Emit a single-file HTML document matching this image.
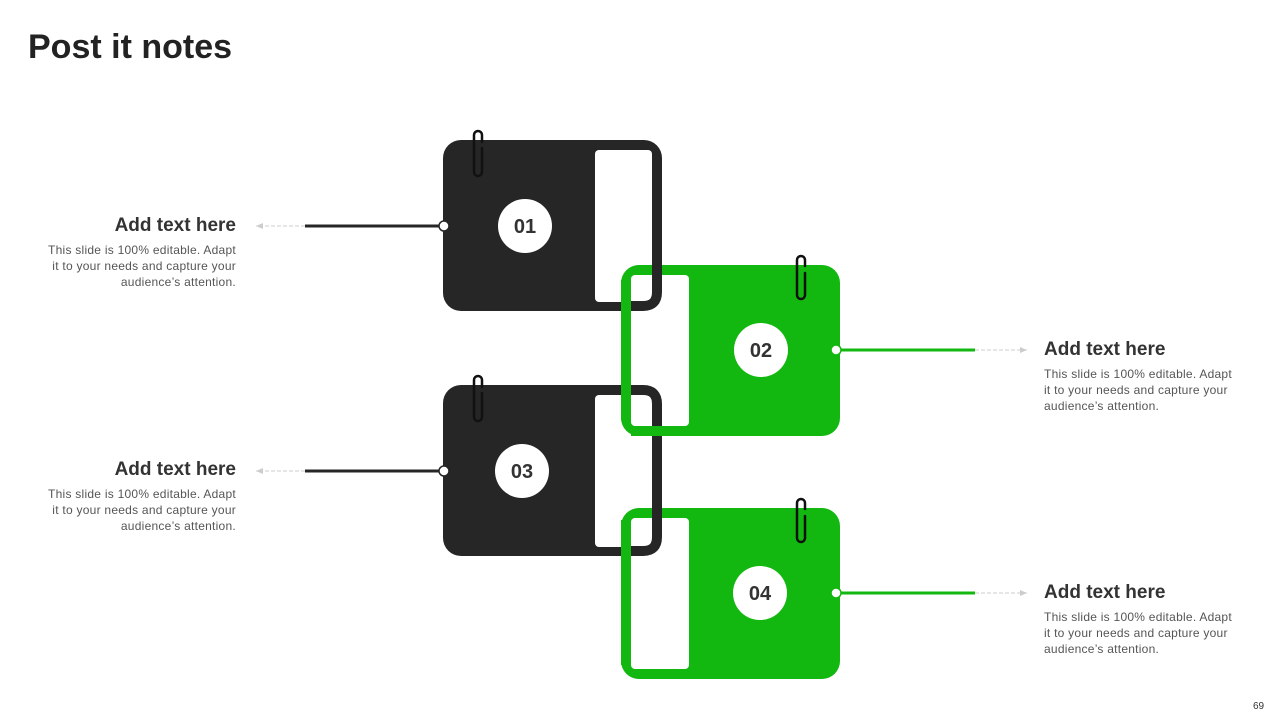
<!DOCTYPE html>
<html><head><style>
body{margin:0;width:1280px;height:720px;background:#fff;position:relative;overflow:hidden;font-family:"Liberation Sans",sans-serif}
.t{position:absolute;font-weight:bold;color:#333;font-size:19px;white-space:nowrap}
.b{position:absolute;font-size:12px;line-height:16px;color:#555;white-space:nowrap;letter-spacing:0.25px}
.l{text-align:right;right:1044px}
</style></head><body>
<div style="position:absolute;left:28px;top:28px;font-size:34px;font-weight:bold;color:#222">Post it notes</div>
<svg width="1280" height="720" style="position:absolute;left:0;top:0">
<defs>
<marker id="al" markerWidth="8" markerHeight="8" refX="7" refY="4" orient="auto" markerUnits="userSpaceOnUse"><path d="M0,1 L7,4 L0,7z" fill="#ccc"/></marker>
</defs>
<rect x="443" y="140" width="219" height="171" rx="18" fill="#262626"/>
<rect x="595" y="150" width="57" height="152" rx="4" fill="#fff"/>
<rect x="443" y="385" width="219" height="171" rx="18" fill="#262626"/>
<rect x="595" y="395" width="57" height="152" rx="4" fill="#fff"/>
<rect x="621" y="265" width="219" height="171" rx="18" fill="#12b80f"/>
<rect x="631" y="275" width="58" height="151" rx="4" fill="#fff"/>
<rect x="621" y="508" width="219" height="171" rx="18" fill="#12b80f"/>
<rect x="631" y="518" width="58" height="151" rx="4" fill="#fff"/>
<path d="M657,262 V292 Q657,306 643,306 H621" stroke="#262626" stroke-width="10" fill="none"/>
<path d="M621,390 H643 Q657,390 657,404 V537 Q657,551 643,551 H621" stroke="#262626" stroke-width="10" fill="none"/>
<line x1="626" y1="280" x2="626" y2="420" stroke="#12b80f" stroke-width="10"/>
<line x1="626" y1="520" x2="626" y2="665" stroke="#12b80f" stroke-width="10"/>
<line x1="631" y1="431" x2="689" y2="431" stroke="#12b80f" stroke-width="10"/>
<circle cx="525" cy="226" r="27" fill="#fff"/>
<circle cx="761" cy="350" r="27" fill="#fff"/>
<circle cx="522" cy="471" r="27" fill="#fff"/>
<circle cx="760" cy="593" r="27" fill="#fff"/>
<g font-family="Liberation Sans" font-weight="bold" font-size="20" fill="#333" text-anchor="middle">
<text x="525" y="233">01</text><text x="761" y="357">02</text><text x="522" y="478">03</text><text x="760" y="600">04</text>
</g>
<g fill="none" stroke="#111" stroke-width="2.5" stroke-linecap="round">
<path d="M482,148 V172 a4,4 0 0 1 -8,0 V135 a4,4 0 0 1 8,0 V142"/>
<path d="M482,393 V417 a4,4 0 0 1 -8,0 V380 a4,4 0 0 1 8,0 V387"/>
<path d="M805,273 V295 a4,4 0 0 1 -8,0 V260 a4,4 0 0 1 8,0 V266"/>
<path d="M805,516 V538 a4,4 0 0 1 -8,0 V503 a4,4 0 0 1 8,0 V509"/>
</g>
<line x1="305" y1="226" x2="444" y2="226" stroke="#262626" stroke-width="3"/>
<line x1="305" y1="226" x2="256" y2="226" stroke="#ccc" stroke-dasharray="4,2" marker-end="url(#al)"/>
<circle cx="444" cy="226" r="5" fill="#fff" stroke="#262626" stroke-width="1.5"/>
<line x1="305" y1="471" x2="444" y2="471" stroke="#262626" stroke-width="3"/>
<line x1="305" y1="471" x2="256" y2="471" stroke="#ccc" stroke-dasharray="4,2" marker-end="url(#al)"/>
<circle cx="444" cy="471" r="5" fill="#fff" stroke="#262626" stroke-width="1.5"/>
<line x1="836" y1="350" x2="975" y2="350" stroke="#12b80f" stroke-width="3"/>
<line x1="975" y1="350" x2="1027" y2="350" stroke="#ccc" stroke-dasharray="4,2" marker-end="url(#al)"/>
<circle cx="836" cy="350" r="5" fill="#fff" stroke="#12b80f" stroke-width="1.5"/>
<line x1="836" y1="593" x2="975" y2="593" stroke="#12b80f" stroke-width="3"/>
<line x1="975" y1="593" x2="1027" y2="593" stroke="#ccc" stroke-dasharray="4,2" marker-end="url(#al)"/>
<circle cx="836" cy="593" r="5" fill="#fff" stroke="#12b80f" stroke-width="1.5"/>
</svg>
<div class="t" style="right:1044px;top:215px">Add text here</div>
<div class="b l" style="top:242px">This slide is 100% editable. Adapt<br>it to your needs and capture your<br>audience’s attention.</div>
<div class="t" style="right:1044px;top:459px">Add text here</div>
<div class="b l" style="top:486px">This slide is 100% editable. Adapt<br>it to your needs and capture your<br>audience’s attention.</div>
<div class="t" style="left:1044px;top:339px">Add text here</div>
<div class="b" style="left:1044px;top:366px">This slide is 100% editable. Adapt<br>it to your needs and capture your<br>audience’s attention.</div>
<div class="t" style="left:1044px;top:582px">Add text here</div>
<div class="b" style="left:1044px;top:609px">This slide is 100% editable. Adapt<br>it to your needs and capture your<br>audience’s attention.</div>
<div style="position:absolute;left:1253px;top:701px;font-size:10px;color:#333">69</div>
</body></html>
